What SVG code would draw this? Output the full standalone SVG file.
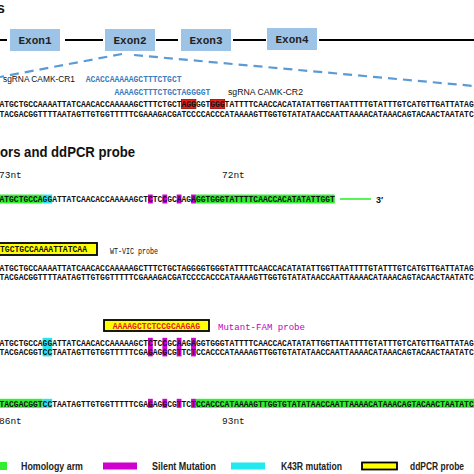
<svg xmlns="http://www.w3.org/2000/svg" width="474" height="474" viewBox="0 0 474 474">
<style>
.seq{font-family:"Liberation Mono",monospace;font-weight:bold;font-size:9.5px;fill:#111}
.lbl{font-family:"Liberation Mono",monospace;font-size:9.5px;fill:#111}
.sans{font-family:"Liberation Sans",Arial,sans-serif;fill:#111}
.exon rect{fill:#9DC3E6}
.exon text{font-family:"Liberation Mono",monospace;font-weight:bold;font-size:11px;fill:#222;text-anchor:middle}
.gl{stroke:#000;stroke-width:2}
.dash{stroke:#5B9BD5;stroke-width:2.2;stroke-dasharray:9 6;fill:none}
.g{fill:#33EE33}
.c{fill:#22E8F0}
.m{fill:#D000D0}
.r{fill:#E8201A;stroke:#A00000;stroke-width:0.8}
.probe{fill:#FFFF00;stroke:#000;stroke-width:1.8}
.leg{font-family:"Liberation Sans",Arial,sans-serif;font-weight:bold;font-size:10px;fill:#222}
</style>

<text class="sans" x="-3" y="13" font-size="14" font-weight="bold">s</text>

<g id="gene">
  <line class="gl" x1="0" y1="40" x2="7" y2="40"/>
  <line class="gl" x1="65" y1="40" x2="103" y2="40"/>
  <line class="gl" x1="156" y1="40" x2="178" y2="40"/>
  <line class="gl" x1="233" y1="40" x2="266" y2="40"/>
  <line class="gl" x1="319" y1="40" x2="474" y2="40"/>
</g>
<g id="exon1" class="exon"><rect x="10" y="29" width="50" height="22"/><text x="35" y="43.5">Exon1</text></g>
<g id="exon2" class="exon"><rect x="105" y="29" width="50" height="22"/><text x="130" y="43.5">Exon2</text></g>
<g id="exon3" class="exon"><rect x="181" y="29" width="50" height="22"/><text x="206" y="43.5">Exon3</text></g>
<g id="exon4" class="exon"><rect x="267" y="28" width="50" height="22"/><text x="292" y="42.5">Exon4</text></g>

<g id="connectors">
  <line class="dash" x1="122" y1="54" x2="0" y2="77"/>
  <line class="dash" x1="134" y1="55" x2="474" y2="86"/>
</g>

<g id="sgrna">
  <text class="sans" x="3" y="82" font-size="8.5" textLength="72" lengthAdjust="spacingAndGlyphs">sgRNA CAMK-CR1</text>
  <text class="seq" x="85.7" y="82" font-size="8.5" style="fill:#3A7CC0" textLength="95.8" lengthAdjust="spacingAndGlyphs">ACACCAAAAAGCTTTCTGCT</text>
  <text class="seq" x="114.5" y="95" font-size="8.5" style="fill:#3A7CC0" textLength="95.8" lengthAdjust="spacingAndGlyphs">AAAAGCTTTCTGCTAGGGGT</text>
  <text class="sans" x="228" y="95" font-size="8.5" textLength="75" lengthAdjust="spacingAndGlyphs">sgRNA CAMK-CR2</text>
</g>

<g id="genomic">
  <rect class="r" x="181.5" y="99.5" width="14.4" height="9"/>
  <rect class="r" x="210.3" y="99.5" width="14.4" height="9"/>
  <text class="seq" x="-0.5" y="107.2" textLength="474.2" lengthAdjust="spacingAndGlyphs">ATGCTGCCAAAATTATCAACACCAAAAAGCTTTCTGCTAGGGGTGGGTATTTTCAACCACATATATTGGTTAATTTTGTATTTGTCATGTTGATTATAG</text>
  <text class="seq" x="-0.5" y="117.2" textLength="474.2" lengthAdjust="spacingAndGlyphs">TACGACGGTTTTAATAGTTGTGGTTTTTCGAAAGACGATCCCCACCCATAAAAGTTGGTGTATATAACCAATTAAAACATAAACAGTACAACTAATATC</text>
</g>

<text class="sans" x="0" y="157" font-size="15" font-weight="bold" textLength="135" lengthAdjust="spacingAndGlyphs">ors and ddPCR probe</text>

<g id="donor73">
  <text class="lbl" x="-1" y="178">73nt</text>
  <text class="lbl" x="222" y="178">72nt</text>
  <rect class="g" x="-0.5" y="194.5" width="43.1" height="9"/>
  <rect class="c" x="42.6" y="194.5" width="9.6" height="9"/>
  <rect class="m" x="148" y="194.5" width="4.8" height="9"/>
  <rect class="m" x="162.4" y="194.5" width="4.8" height="9"/>
  <rect class="m" x="176.7" y="194.5" width="4.8" height="9"/>
  <rect class="m" x="191.1" y="194.5" width="4.8" height="9"/>
  <rect class="g" x="195.9" y="194.5" width="138.9" height="9"/>
  <text class="seq" x="-0.5" y="202.2" textLength="335.3" lengthAdjust="spacingAndGlyphs">ATGCTGCCAGGATTATCAACACCAAAAAGCTCTCCGCAAGAGGTGGGTATTTTCAACCACATATATTGGT</text>
  <line x1="340" y1="199" x2="371" y2="199" stroke="#22EE22" stroke-width="1.5"/>
  <text class="sans" x="376" y="203" font-size="9" font-weight="bold">3′</text>
</g>

<g id="wt-probe">
  <rect class="probe" x="-1" y="243" width="98" height="12"/>
  <text class="seq" x="0" y="252.2" font-size="8.5" textLength="87" lengthAdjust="spacingAndGlyphs">TGCTGCCAAAATTATCAA</text>
  <text class="lbl" x="110" y="254" textLength="48" lengthAdjust="spacingAndGlyphs">WT-VIC probe</text>
</g>

<g id="wt-seq">
  <text class="seq" x="-0.5" y="270.5" textLength="474.2" lengthAdjust="spacingAndGlyphs">ATGCTGCCAAAATTATCAACACCAAAAAGCTTTCTGCTAGGGGTGGGTATTTTCAACCACATATATTGGTTAATTTTGTATTTGTCATGTTGATTATAG</text>
  <text class="seq" x="-0.5" y="280" textLength="474.2" lengthAdjust="spacingAndGlyphs">TACGACGGTTTTAATAGTTGTGGTTTTTCGAAAGACGATCCCCACCCATAAAAGTTGGTGTATATAACCAATTAAAACATAAACAGTACAACTAATATC</text>
</g>

<g id="mut-probe">
  <rect class="probe" x="104" y="320" width="105" height="11"/>
  <text class="seq" x="112.7" y="328.8" font-size="8.5" style="fill:#E02020" textLength="87.3" lengthAdjust="spacingAndGlyphs">AAAAGCTCTCCGCAAGAG</text>
  <text class="lbl" x="218" y="329.8" style="fill:#C000C0" textLength="87" lengthAdjust="spacingAndGlyphs">Mutant-FAM probe</text>
</g>

<g id="mut-seq">
  <rect class="c" x="42.6" y="337.8" width="9.6" height="18.6"/>
  <rect class="m" x="148" y="337.8" width="4.8" height="18.6"/>
  <rect class="m" x="162.4" y="337.8" width="4.8" height="18.6"/>
  <rect class="m" x="176.7" y="337.8" width="4.8" height="18.6"/>
  <rect class="m" x="191.1" y="337.8" width="4.8" height="18.6"/>
  <text class="seq" x="-0.5" y="345.5" textLength="474.2" lengthAdjust="spacingAndGlyphs">ATGCTGCCAGGATTATCAACACCAAAAAGCTCTCCGCAAGAGGTGGGTATTTTCAACCACATATATTGGTTAATTTTGTATTTGTCATGTTGATTATAG</text>
  <text class="seq" x="-0.5" y="355" textLength="474.2" lengthAdjust="spacingAndGlyphs">TACGACGGTCCTAATAGTTGTGGTTTTTCGAGAGGCGTTCTCCACCCATAAAAGTTGGTGTATATAACCAATTAAAACATAAACAGTACAACTAATATC</text>
</g>

<g id="donor86">
  <rect class="g" x="-0.5" y="398.8" width="43.1" height="9"/>
  <rect class="c" x="42.6" y="398.8" width="9.6" height="9"/>
  <rect class="m" x="148" y="398.8" width="4.8" height="9"/>
  <rect class="m" x="162.4" y="398.8" width="4.8" height="9"/>
  <rect class="m" x="176.7" y="398.8" width="4.8" height="9"/>
  <rect class="m" x="191.1" y="398.8" width="4.8" height="9"/>
  <rect class="g" x="195.9" y="398.8" width="278.1" height="9"/>
  <text class="seq" x="-0.5" y="406.5" textLength="474.2" lengthAdjust="spacingAndGlyphs">TACGACGGTCCTAATAGTTGTGGTTTTTCGAGAGGCGTTCTCCACCCATAAAAGTTGGTGTATATAACCAATTAAAACATAAACAGTACAACTAATATC</text>
  <text class="lbl" x="-1" y="423.5">86nt</text>
  <text class="lbl" x="222" y="423.5">93nt</text>
</g>

<g id="legend">
  <rect class="g" x="-1" y="462" width="8" height="8"/>
  <text class="leg" x="21" y="469.5" textLength="62" lengthAdjust="spacingAndGlyphs">Homology arm</text>
  <rect class="m" x="103" y="462.5" width="34" height="7"/>
  <text class="leg" x="152" y="469.5" textLength="64" lengthAdjust="spacingAndGlyphs">Silent Mutation</text>
  <rect class="c" x="231" y="462.5" width="34" height="7"/>
  <text class="leg" x="281" y="469.5" textLength="61" lengthAdjust="spacingAndGlyphs">K43R mutation</text>
  <rect class="probe" x="362" y="462.5" width="35" height="7"/>
  <text class="leg" x="410" y="469.5" textLength="54" lengthAdjust="spacingAndGlyphs">ddPCR probe</text>
</g>
</svg>
